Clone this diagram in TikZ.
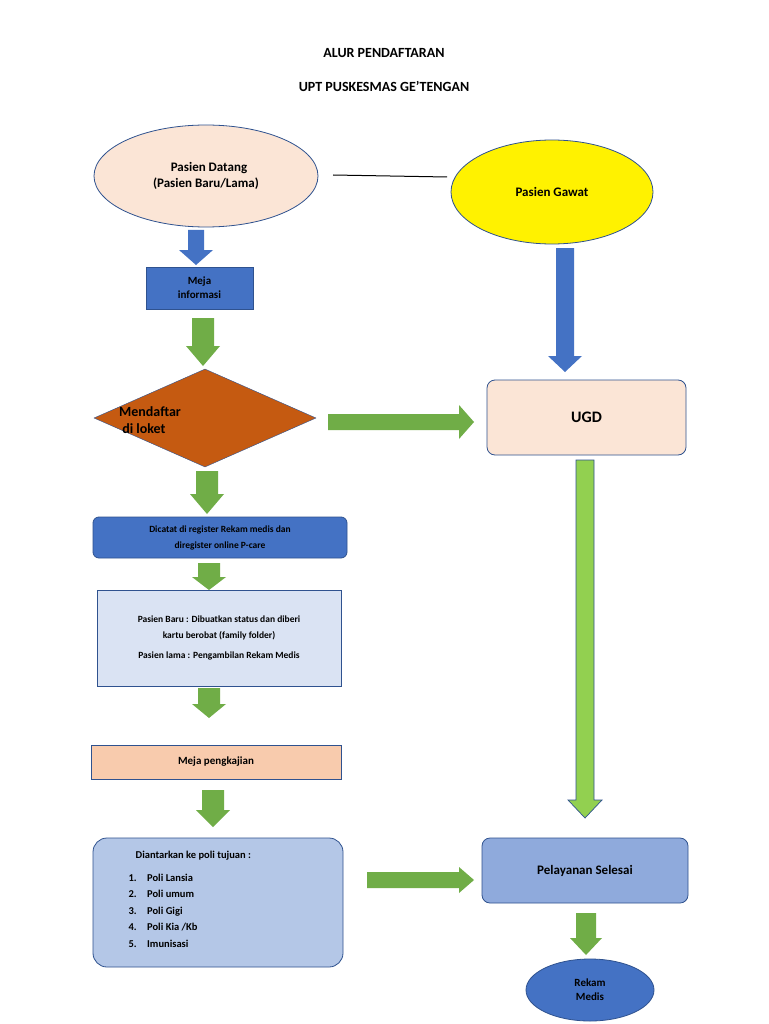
\documentclass[tikz,border=0pt]{standalone}
\usepackage{fontspec}
\setmainfont{Carlito}
\usetikzlibrary{shapes.geometric}
\definecolor{peach}{HTML}{FBE5D6}
\definecolor{bord}{HTML}{2F528F}
\definecolor{blu}{HTML}{4472C4}
\definecolor{grn}{HTML}{70AD47}
\definecolor{lgrn}{HTML}{92D050}
\definecolor{brn}{HTML}{C55A11}
\definecolor{pale}{HTML}{DAE3F3}
\definecolor{salm}{HTML}{F8CBAD}
\definecolor{lblu}{HTML}{B4C7E7}
\definecolor{mblu}{HTML}{8FAADC}
\newcommand\darr[7]{% x y1 y2 shafthalf headhalf headlen color
 \fill[#7] (#1-#4,#2) -- (#1+#4,#2) -- (#1+#4,#3-#6) -- (#1+#5,#3-#6) -- (#1,#3) -- (#1-#5,#3-#6) -- (#1-#4,#3-#6) -- cycle;}
\newcommand\rarr[7]{% y x1 x2 shafthalf headhalf headlen color
 \fill[#7] (#2,#1-#4) -- (#2,#1+#4) -- (#3-#6,#1+#4) -- (#3-#6,#1+#5) -- (#3,#1) -- (#3-#6,#1-#5) -- (#3-#6,#1-#4) -- cycle;}
\begin{document}
\begin{tikzpicture}[x=1pt,y=-1pt,font=\bfseries,
 box/.style={draw=bord,line width=0.8pt,align=center,inner sep=0pt},
 ell/.style={box,ellipse}]
\useasboundingbox (0,0) rectangle (768,1024);
\fill[white] (0,0) rectangle (768,1024);
\node[font=\bfseries\fontsize{14}{16}\selectfont] (t1) at (384,53) {ALUR PENDAFTARAN};
\node[font=\bfseries\fontsize{14}{16}\selectfont] (t2) at (384,86) {UPT PUSKESMAS GE’TENGAN};
\node[ell,fill=peach,minimum width=224,minimum height=102,font=\bfseries\fontsize{13}{16}\selectfont] (pd) at (206,176) {\phantom{x}Pasien Datang\\(Pasien Baru/Lama)};
\node[ell,fill=yellow,minimum width=202,minimum height=104,font=\bfseries\fontsize{13}{16}\selectfont] (pg) at (552,192) {Pasien Gawat};
\coordinate (l1) at (333,175); \coordinate (l2) at (447,177);
\draw[line width=1pt] (l1) -- (l2);
\darr{196}{230}{265}{8}{17}{15}{blu}
\node[box,fill=blu,minimum width=107,minimum height=42,font=\bfseries\fontsize{11}{14}\selectfont] (mi) at (199.5,288) {Meja\\informasi};
\darr{203}{318}{366}{11}{17}{20}{grn}
\node[diamond,draw=bord,fill=brn,minimum width=222,minimum height=98,inner sep=0pt,aspect=2.26] (md) at (205,418) {};
\node[align=left,font=\bfseries\fontsize{14}{17}\selectfont] (mdt) at (150,420) {Mendaftar\\\ di loket};
\rarr{422}{328}{474}{8}{17}{15}{grn}
\node[box,rounded corners=8,fill=peach,minimum width=199,minimum height=75,font=\bfseries\fontsize{16}{18}\selectfont] (ugd) at (586.5,417.5) {UGD};
\darr{565}{248}{372}{9}{17}{16}{blu}
\darr{207}{471}{514}{11}{17}{20}{grn}
\node[box,rounded corners=6,fill=blu,minimum width=254,minimum height=41,font=\bfseries\fontsize{9.5}{16}\selectfont] (dc) at (220,537.5) {Dicatat di register Rekam medis dan\\diregister online P-care};
\darr{209}{563}{590}{11}{17}{13}{grn}
\node[box,fill=pale,minimum width=244,minimum height=96,font=\bfseries\fontsize{9.5}{16}\selectfont] (pb) at (219,638) {Pasien Baru : Dibuatkan status dan diberi\\kartu berobat (family folder)\\[4pt]Pasien lama : Pengambilan Rekam Medis};
\darr{209}{688}{718}{11}{17}{14}{grn}
\node[box,fill=salm,minimum width=250,minimum height=34,font=\bfseries\fontsize{11}{14}\selectfont] (mp) at (216,762) {Meja pengkajian};
\darr{213}{790}{827}{11}{17}{17}{grn}
\node[box,rounded corners=14,fill=lblu,minimum width=250,minimum height=129] (dk) at (218,902.5) {};
\node[anchor=north west,align=left,font=\bfseries\fontsize{10.5}{16.5}\selectfont] (dkt) at (125,848) {\ \ \ Diantarkan ke poli tujuan :\\[6pt]
1.\quad Poli Lansia\\2.\quad Poli umum\\3.\quad Poli Gigi\\4.\quad Poli Kia /Kb\\5.\quad Imunisasi};
\rarr{880}{367}{474}{8}{13}{15}{grn}
\node[box,rounded corners=8,fill=mblu,minimum width=206,minimum height=65,font=\bfseries\fontsize{13}{16}\selectfont] (ps) at (585,870.5) {Pelayanan Selesai};
\fill[lgrn,draw=bord,line width=0.7pt] (576,460) -- (594,460) -- (594,800) -- (602,800) -- (585,818) -- (568,800) -- (576,800) -- cycle;
\darr{586}{913}{955}{10}{16}{17}{grn}
\node[ell,fill=blu,minimum width=128,minimum height=62,font=\bfseries\fontsize{11}{14}\selectfont] (rm) at (590,990) {Rekam\\Medis};
\end{tikzpicture}
\end{document}
